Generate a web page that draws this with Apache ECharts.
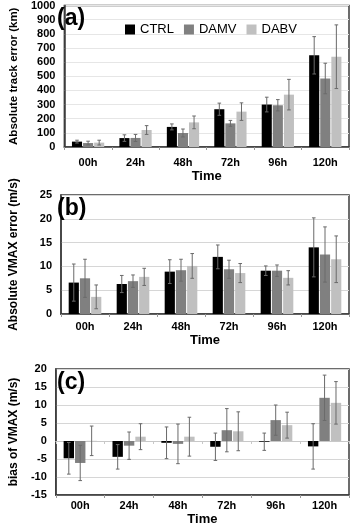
<!DOCTYPE html>
<html>
<head>
<meta charset="utf-8">
<script src="https://cdn.jsdelivr.net/npm/echarts@6/dist/echarts.min.js"></script>
<style>
  html, body { margin: 0; padding: 0; background: #fff; }
  #main { width: 350px; height: 527px; }
</style>
</head>
<body>
<div id="main"></div>
<script>
var cats = ['00h', '24h', '48h', '72h', '96h', '120h'];
var names = ['CTRL', 'DAMV', 'DABV'];
var colors = ['#000000', '#808080', '#c0c0c0'];

// (a) absolute track error (km): mean and std
var trackCtrl = [38, 63, 142, 267, 300, 648];
var trackDamv = [28, 64, 99, 167, 295, 484];
var trackDabv = [31, 120, 174, 250, 370, 638];
var trackCtrlSd = [10, 23, 21, 43, 52, 132];
var trackDamvSd = [13, 25, 28, 21, 40, 108];
var trackDabvSd = [17, 31, 45, 62, 108, 225];

// (b) absolute VMAX error (m/s)
var vmaxCtrl = [6.6, 6.3, 8.9, 12.0, 9.1, 14.0];
var vmaxDamv = [7.5, 6.9, 9.2, 9.4, 9.1, 12.5];
var vmaxDabv = [3.6, 7.8, 10.1, 8.6, 7.6, 11.5];
var vmaxCtrlSd = [3.9, 1.8, 2.5, 2.5, 1.0, 6.2];
var vmaxDamvSd = [4.0, 1.3, 2.3, 1.9, 1.2, 5.8];
var vmaxDabvSd = [2.5, 1.8, 2.6, 2.0, 1.5, 4.9];

// (c) bias of VMAX (m/s)
var biasCtrl = [-4.8, -4.4, -0.5, -1.6, -0.2, -1.5];
var biasDamv = [-6.1, -1.3, -0.8, 3.0, 5.8, 12.0];
var biasDabv = [0.05, 1.2, 1.2, 2.7, 4.4, 10.6];
var biasCtrlSd = [4.4, 3.4, 4.4, 3.8, 2.4, 6.3];
var biasDamvSd = [4.9, 3.8, 5.5, 6.0, 4.2, 6.3];
var biasDabvSd = [4.1, 3.6, 5.4, 5.4, 3.6, 5.9];

var panels = [
  { means: [trackCtrl, trackDamv, trackDabv], sds: [trackCtrlSd, trackDamvSd, trackDabvSd],
    yName: 'Absolute track error (km)', min: 0, max: 1000, interval: 100,
    top: 5, height: 142, nameGap: 40, labelMargin: 10, timeGap: 23, letter: '(a)', letterTop: 7 },
  { means: [vmaxCtrl, vmaxDamv, vmaxDabv], sds: [vmaxCtrlSd, vmaxDamvSd, vmaxDabvSd],
    yName: 'Absolute VMAX error (m/s)', min: 0, max: 25, interval: 5,
    top: 195, height: 119, nameGap: 41, labelMargin: 7, timeGap: 20, letter: '(b)', letterTop: 197 },
  { means: [biasCtrl, biasDamv, biasDabv], sds: [biasCtrlSd, biasDamvSd, biasDabvSd],
    yName: 'bias of VMAX (m/s)', min: -15, max: 20, interval: 5,
    top: 369, height: 128, nameGap: 29, labelMargin: 5, timeGap: 18, letter: '(c)', letterTop: 371 }
];

var FONT = 'Liberation Sans';
var CAT_GAP = 0.32, BAR_GAP = 0.1;

function errRenderer(k) {
  return function (params, api) {
    var idx = api.value(0);
    var x = api.coord([idx, 0])[0];
    var w = api.size([1, 0])[0];
    var group = w * (1 - CAT_GAP);
    var bw = group / (3 + 2 * BAR_GAP);
    var cx = x - group / 2 + bw / 2 + k * bw * (1 + BAR_GAP);
    var yLo = api.coord([idx, api.value(1)])[1];
    var yHi = api.coord([idx, api.value(2)])[1];
    var c = 1.8;
    var st = { stroke: '#6a6a6a', lineWidth: 1 };
    return {
      type: 'group',
      children: [
        { type: 'line', shape: { x1: cx, y1: yLo, x2: cx, y2: yHi }, style: st },
        { type: 'line', shape: { x1: cx - c, y1: yLo, x2: cx + c, y2: yLo }, style: st },
        { type: 'line', shape: { x1: cx - c, y1: yHi, x2: cx + c, y2: yHi }, style: st }
      ]
    };
  };
}

var grid = [], xAxis = [], yAxis = [], series = [], title = [];
panels.forEach(function (p, gi) {
  grid.push({ left: 52, right: 1, top: p.top, height: p.height, show: true,
    borderColor: '#3c3c3c', borderWidth: 1.5, backgroundColor: 'transparent' });
  xAxis.push({
    type: 'category', gridIndex: gi, data: cats, position: 'bottom',
    name: 'Time', nameLocation: 'middle', nameGap: p.timeGap,
    nameTextStyle: { fontFamily: FONT, fontWeight: 'bold', fontSize: 13, color: '#000' },
    axisLine: { onZero: false, lineStyle: { color: '#3c3c3c', width: 1.5 } },
    axisTick: { show: true, length: 3, lineStyle: { color: '#999' } },
    axisLabel: { fontFamily: FONT, fontWeight: 'bold', fontSize: 11, color: '#000', margin: p.labelMargin }
  });
  yAxis.push({
    type: 'value', gridIndex: gi, min: p.min, max: p.max, interval: p.interval,
    name: p.yName, nameLocation: 'middle', nameGap: p.nameGap, nameRotate: 90,
    nameTextStyle: { fontFamily: FONT, fontWeight: 'bold', fontSize: gi === 0 ? 11.5 : 12, color: '#000' },
    axisLine: { show: true, lineStyle: { color: '#3c3c3c', width: 1.5 } },
    axisTick: { show: false },
    axisLabel: { fontFamily: FONT, fontWeight: 'bold', fontSize: 11, color: '#000', margin: 9,
      formatter: function (v) { return String(v); } },
    splitLine: { lineStyle: { color: gi === 0 ? '#e6e6e6' : '#d6d6d6', width: 1 } }
  });
  title.push({ text: p.letter, left: 57, top: p.letterTop, padding: 0,
    textStyle: { fontFamily: FONT, fontWeight: 'bold', fontSize: 23, color: '#000' } });
  p.means.forEach(function (m, k) {
    series.push({
      name: names[k], type: 'bar', xAxisIndex: gi, yAxisIndex: gi,
      data: m, barCategoryGap: (CAT_GAP * 100) + '%', barGap: (BAR_GAP * 100) + '%',
      itemStyle: { color: colors[k] }, silent: true
    });
  });
  p.means.forEach(function (m, k) {
    var sd = p.sds[k];
    series.push({
      type: 'custom', xAxisIndex: gi, yAxisIndex: gi, silent: true, z: 5,
      renderItem: errRenderer(k),
      encode: { x: 0, y: [1, 2] },
      data: m.map(function (v, i) { return [i, v - sd[i], v + sd[i]]; })
    });
  });
});

// zero line with ticks in panel (c)
xAxis.push({
  type: 'category', gridIndex: 2, data: cats, position: 'bottom',
  axisLine: { onZero: true, lineStyle: { color: '#c8c8c8', width: 1 } },
  axisTick: { show: true, length: 3, lineStyle: { color: '#c8c8c8' } },
  axisLabel: { show: false }
});

var myChart = echarts.init(document.getElementById('main'));
myChart.setOption({
  animation: false,
  title: title,
  legend: {
    data: names, left: 125, top: 23, padding: 0, icon: 'rect',
    itemWidth: 10, itemHeight: 10, itemGap: 10, selectedMode: false,
    textStyle: { fontFamily: FONT, fontSize: 13, color: '#000' }
  },
  grid: grid,
  xAxis: xAxis,
  yAxis: yAxis,
  series: series
});
</script>
</body>
</html>
